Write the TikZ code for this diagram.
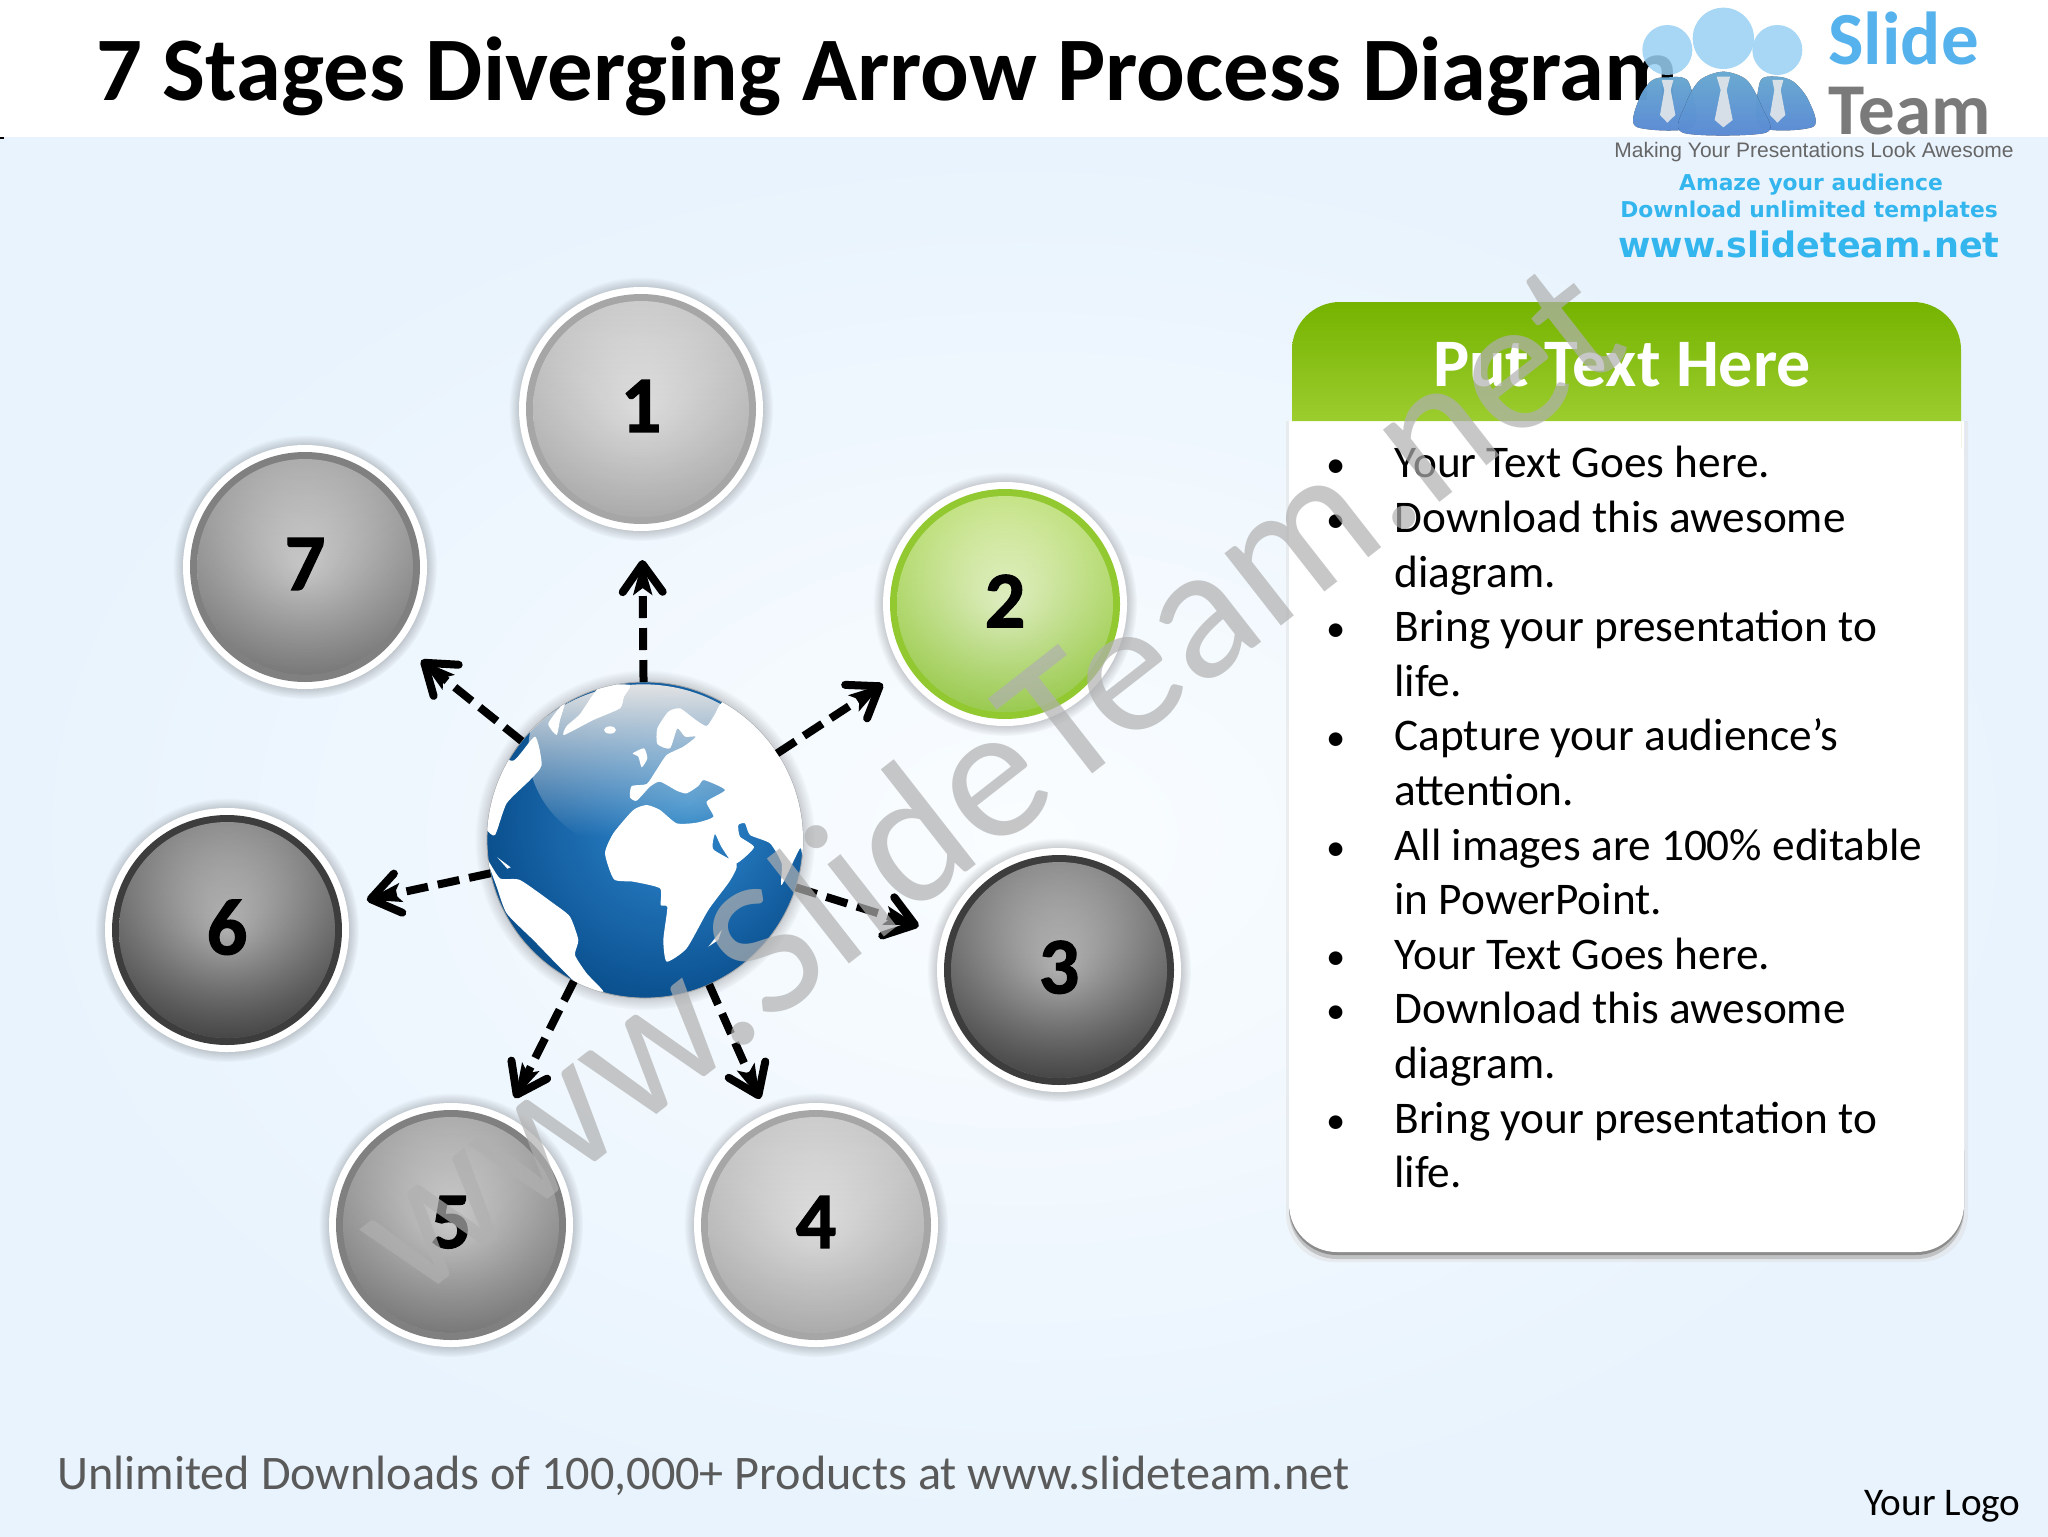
\documentclass[tikz,border=0pt]{standalone}
\usepackage{fontspec}
\setmainfont{Carlito}
\newfontfamily\logofont{DejaVu Sans}
\newfontfamily\tagfont{Liberation Sans}
\newfontfamily\stagefont[BoldFeatures={FakeBold=1.5}]{Carlito}
\usetikzlibrary{arrows.meta,fadings}
\definecolor{pagepale}{HTML}{FAFDFF}
\definecolor{pageblue}{HTML}{E8F3FD}
\definecolor{headtop}{HTML}{75B300}
\definecolor{headbottom}{HTML}{9CCD2E}
\definecolor{logoblue}{HTML}{55B2EC}
\definecolor{logocyan}{HTML}{33B5EE}
\definecolor{footgray}{HTML}{5A5A5A}
\definecolor{marksgray}{HTML}{B0B0B0}
\definecolor{greenring}{HTML}{92C830}
\definecolor{greencore}{HTML}{FFFFF0}
\definecolor{greenrim}{HTML}{C6E488}
\definecolor{greenfade}{HTML}{5AA500}
\pgfdeclareradialshading{globesea}{\pgfpoint{7bp}{6bp}}{%
  rgb(0bp)=(0.2,0.55,0.8); rgb(12bp)=(0.13,0.45,0.72);
  rgb(26bp)=(0.05,0.33,0.58); rgb(40bp)=(0.01,0.24,0.43); rgb(50bp)=(0,0.2,0.38)}
\tikzset{
  stagedisk/.style n args={4}{circle, minimum size=122pt, inner sep=0pt, outer sep=0pt,
    fill=white, text depth=3pt, font=\stagefont\fontsize{40}{40}\selectfont\bfseries,
    path picture={
      \fill[#1] (path picture bounding box.center) circle (57.5pt);
      \shade[inner color=#2, outer color=#3] (path picture bounding box.center) circle (54pt);
      \fill[#4, path fading=north] (path picture bounding box.center) circle (54pt);
    }},
  stagelight/.style={stagedisk={black!35}{black!6}{black!20}{black, opacity=.16}},
  stagemid/.style={stagedisk={black!50}{black!8}{black!32}{black, opacity=.3}},
  stagedark/.style={stagedisk={black!76}{black!8}{black!44}{black, opacity=.5}},
  stagegreen/.style={stagedisk={greenring}{greencore}{greenrim}{greenfade, opacity=.4}},
  stagearrow/.style={line width=4pt, dash pattern=on 11pt off 5pt,
    -{Straight Barb[length=14pt, width=20pt, line width=4pt, round, sep=-17pt] Stealth[length=17pt, width=9pt, inset=3pt]}},
  softshadow/.style={black, opacity=.35, path fading=circle with fuzzy edge 15 percent},
  paneltext/.style={anchor=north west, inner sep=0pt, align=left,
    font=\fontsize{22.65}{27.3}\selectfont},
  logoman/.style={top color=logoblue!80!white, bottom color=logoblue!75!blue!80!white},
  logohead/.style={fill=logoblue!60!white},
  logotie/.style={fill=white!92!black},
}
\newcommand{\panelitem}{\llap{\scalebox{.85}{\textbullet}\hspace{24.5pt}}}
\begin{document}
\begin{tikzpicture}[x=0.5pt, y=-0.5pt]
\useasboundingbox (0,0) rectangle (2048,1536);

% page
\fill[white] (0,0) rectangle (2048,137);
\shade[inner color=pagepale, outer color=pageblue] (0,137) rectangle (2048,1536);
\fill[black] (0,137) rectangle (4,139);

\node[anchor=base west, inner sep=0pt, font=\fontsize{45.4}{46}\selectfont\bfseries] (title)
  at (96,100) {7 Stages Diverging Arrow Process Diagram};
\node[anchor=base west, inner sep=0pt, text=footgray, font=\fontsize{24.1}{24}\selectfont] (footer)
  at (57,1489) {Unlimited Downloads of 100,000+ Products at www.slideteam.net};
\node[anchor=base east, inner sep=0pt, font=\fontsize{19.6}{20}\selectfont] (yourlogo)
  at (2021,1515) {Your Logo};

% logo
\begin{scope}[shift={(1560,0)}, scale=1/3, opacity=.85]
  \fill[logoman] plot[smooth cycle, tension=.5] coordinates {(228,380) (238,295) (275,242) (320,232) (385,245) (400,380)};
  \fill[logoman] plot[smooth cycle, tension=.5] coordinates {(600,245) (650,230) (700,245) (745,300) (760,380) (600,380)};
  \fill[logoman] plot[smooth cycle, tension=.5] coordinates {(368,398) (378,310) (420,240) (490,215) (560,240) (605,320) (618,398)};
  \fill[logohead] (322,150) circle (75);
  \fill[logohead] (652,150) circle (75);
  \fill[logohead] (490,115) circle (92);
  \fill[logotie] (470,230) -- (510,230) -- (500,270) -- (518,360) -- (490,382) -- (464,360) -- (482,270) -- cycle;
  \fill[logotie] (305,240) -- (340,240) -- (332,270) -- (346,345) -- (322,368) -- (300,345) -- (313,270) -- cycle;
  \fill[logotie] (637,240) -- (670,240) -- (662,270) -- (676,345) -- (652,368) -- (630,345) -- (643,270) -- cycle;
\end{scope}
\node[anchor=base west, inner sep=0pt, text=logoblue, font=\fontsize{37.5}{38}\selectfont\bfseries] (logoslide)
  at (1828,65) {Slide};
\node[anchor=base west, inner sep=0pt, text=black!52, font=\fontsize{36.5}{37}\selectfont\bfseries] (logoteam)
  at (1828,134) {Team};
\node[anchor=base, inner sep=0pt, text=black!60, font=\tagfont\fontsize{10.5}{10.5}\selectfont] (logotag)
  at (1814,157) {Making Your Presentations Look Awesome};
\node[anchor=base, inner sep=0pt, text=logocyan, font=\logofont\fontsize{10.9}{11}\selectfont\bfseries] (logoamaze)
  at (1811,190) {Amaze your audience};
\node[anchor=base, inner sep=0pt, text=logocyan, font=\logofont\fontsize{10.9}{11}\selectfont\bfseries] (logodown)
  at (1809,217) {Download unlimited templates};
\node[anchor=base, inner sep=0pt, text=logocyan, font=\logofont\fontsize{17.5}{18}\selectfont\bfseries] (logoweb)
  at (1809,257) {www.slideteam.net};

% panel
\fill[black!12, opacity=.5] (1968,800) [rounded corners=24pt] -- (1968,1262) -- (1286,1262) -- (1286,800) [sharp corners] -- (1286,421) -- (1968,421) -- cycle;
\fill[black!30, opacity=.7] (1964,1150) [rounded corners=24pt] -- (1964,1259) -- (1289,1259) -- (1289,1150) [sharp corners] -- cycle;
\fill[black!45] (1964,1150) [rounded corners=24pt] -- (1964,1255) -- (1289,1255) -- (1289,1150) [sharp corners] -- cycle;
\fill[white] (1964,800) [rounded corners=24pt] -- (1964,1252) -- (1289,1252) -- (1289,800) [sharp corners] -- (1289,421) -- (1964,421) -- cycle;
\shade[top color=headtop, bottom color=headbottom] (1292,400) [rounded corners=24pt] -- (1292,302) -- (1961,302) -- (1961,400) [sharp corners] -- (1961,421) -- (1292,421) -- cycle;
\node[inner sep=0pt, text=white, font=\fontsize{34}{34}\selectfont\bfseries] (panelhead) at (1622,365) {Put Text Here};
\node[paneltext] (panelbody) at (1394,446) {%
  \panelitem Your Text Goes here.\\
  \panelitem Download this awesome\\
  diagram.\\
  \panelitem Bring your presentation to\\
  life.\\
  \panelitem Capture your audience’s\\
  attention.\\
  \panelitem All images are 100\% editable\\
  in PowerPoint.\\
  \panelitem Your Text Goes here.\\
  \panelitem Download this awesome\\
  diagram.\\
  \panelitem Bring your presentation to\\
  life.};

% stages
\foreach \n/\x/\y/\look in {1/641/409/stagelight, 2/1005/604/stagegreen, 3/1059/970/stagedark,
    4/816/1225/stagelight, 5/451/1225/stagemid, 6/227/930/stagedark, 7/305/567/stagemid} {
  \fill[softshadow] (\x,\y) circle (66pt);
  \node[\look] (stage\n) at (\x,\y) {\n};
}

% globe
\fill[softshadow] (645,840) circle (85pt);
\node[circle, minimum size=158pt, inner sep=0pt, outer sep=0pt, shade, shading=globesea,
  draw=black!35, line width=.4pt] (globe) at (645,840) {};
\begin{scope}
  \clip (645,840) circle (79pt);
  \begin{scope}[shift={(420,640)}, scale=1/3]
    \begin{scope}
      \clip (670,615) circle (482);
      \clip (670,330) ellipse (345 and 310);
      \fill[black!10, path fading=south] (150,128) rectangle (1200,590);
    \end{scope}
    % Eurasia and Africa
    \fill[white] plot[smooth cycle, tension=.35] coordinates {(905,188) (885,222) (860,258) (825,238) (780,205) (745,215)
      (712,265) (712,312) (750,325) (772,265) (795,290) (828,290) (790,320) (740,345) (708,392) (680,432)
      (635,438) (630,472) (650,482) (690,440) (720,425) (770,452) (800,460) (835,438) (852,420) (915,450)
      (860,485) (880,530) (830,548) (770,550) (720,510) (680,495) (640,510) (580,580) (555,640) (582,718)
      (640,725) (720,745) (722,795) (742,802) (730,900) (740,965) (800,925) (865,810) (930,722) (950,672)
      (880,628) (885,582) (905,622) (945,672) (1002,622) (960,590) (955,555) (975,550) (990,585) (1050,610)
      (1085,670) (1085,735) (1140,625) (1152,650) (1240,600) (1230,300) (1000,120)};
    % Americas and the north
    \fill[white] plot[smooth cycle, tension=.35] coordinates {(280,362) (345,290) (365,375) (330,420) (260,490)
      (225,585) (195,565) (120,480) (200,340)};
    \fill[white] plot[smooth cycle, tension=.35] coordinates {(385,250) (435,185) (420,240) (410,285)};
    \fill[white] plot[smooth cycle, tension=.35] coordinates {(432,285) (520,240) (600,205) (612,170) (630,135)
      (540,140) (480,222) (440,258)};
    \fill[white] (570,270) ellipse (18 and 11);
    \fill[white] plot[smooth cycle, tension=.35] coordinates {(638,340) (672,325) (682,355) (665,382) (655,350)};
    \fill[white] plot[smooth cycle, tension=.35] coordinates {(200,655) (240,715) (300,720) (400,790) (450,830)
      (475,900) (465,945) (500,1000) (550,1055) (470,1030) (340,900) (260,820) (230,740)};
    \fill[white] (232,652) -- (272,682) -- (262,686) -- cycle;
    \fill[white] (865,920) -- (905,870) -- (895,900) -- cycle;
  \end{scope}
\end{scope}

% arrows
\foreach \n/\gap in {1/14.5, 2/12, 3/12.5, 4/8, 5/10, 6/10.5, 7/13.5}
  \draw[stagearrow, shorten >=\gap pt] (globe) -- (stage\n);

% watermark
\node[inner sep=0pt, rotate=38, text=marksgray, opacity=.7, font=\fontsize{96}{96}\selectfont] (watermark)
  at (984,775) {www.SlideTeam.net};
\end{tikzpicture}
\end{document}
